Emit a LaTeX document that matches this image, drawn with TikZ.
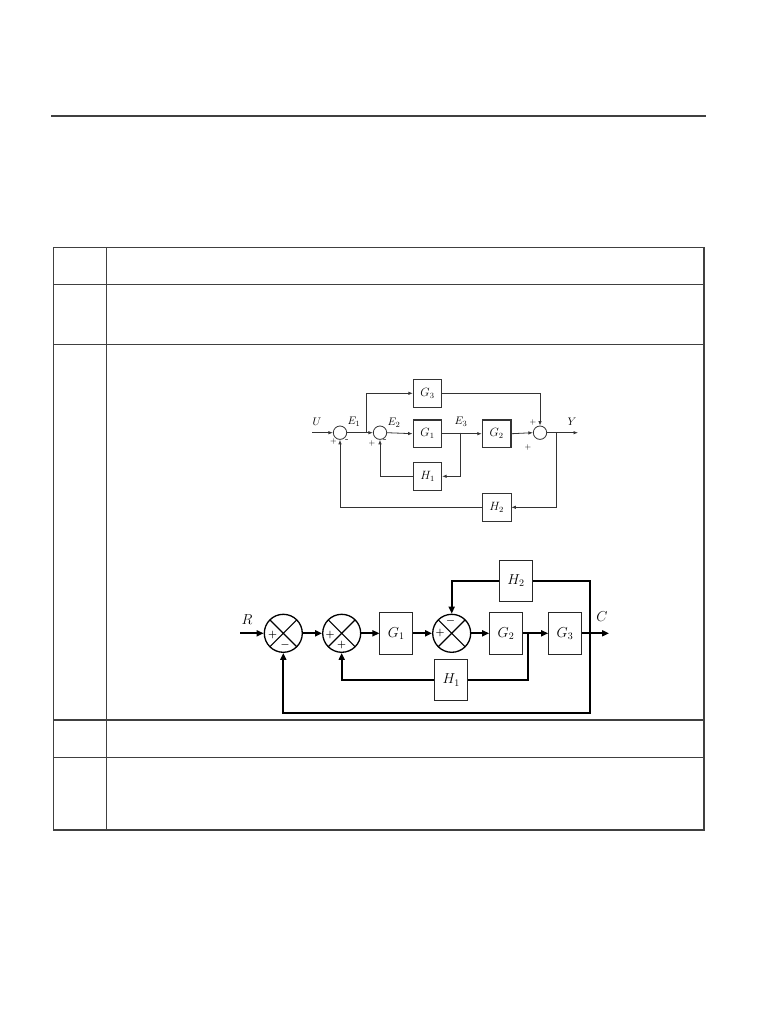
\documentclass[tikz,border=0pt]{standalone}
\usetikzlibrary{arrows.meta,calc}
\begin{document}
\begin{tikzpicture}[x=1pt,y=-1pt,
  rule/.style={draw=black!75,line width=1.2pt},
  d1line/.style={draw=black!80,line width=0.8pt},
  d1arr/.style={d1line,-{Latex[length=4.5pt,width=3.5pt]}},
  d1box/.style={draw=black!80,line width=0.8pt,minimum width=28.4,minimum height=27.3,inner sep=0pt,font=\fontsize{11.5}{13}\selectfont},
  d1sum/.style={circle,draw=black!80,line width=0.8pt,minimum size=13.4,inner sep=0pt},
  d1lab/.style={font=\fontsize{11}{12}\selectfont,inner sep=0pt},
  d2line/.style={draw=black,line width=2pt},
  d2arr/.style={d2line,-{Triangle[length=7pt,width=6pt]}},
  d2box/.style={draw=black!85,line width=0.7pt,minimum width=33,minimum height=41.3,inner sep=0pt,font=\fontsize{14}{16}\selectfont},
  d2sum/.style={circle,draw=black,line width=1.3pt,minimum size=38,inner sep=0pt,
    path picture={\draw[line width=1.2pt] (path picture bounding box.north west)--(path picture bounding box.south east)
      (path picture bounding box.north east)--(path picture bounding box.south west);}},
  d2lab/.style={font=\fontsize{14}{16}\selectfont,inner sep=0pt},
  d2sign/.style={font=\fontsize{10}{11}\selectfont\boldmath,inner sep=0pt}
]
\useasboundingbox (0,0) rectangle (768,1024);
% top rule
\draw[rule] (51,116) -- (706,116);
% table
\draw[rule] (53.3,247.7) rectangle (704,830);
\draw[rule] (106.7,247.7) -- (106.7,830);
\draw[rule] (53.3,284.3) -- (704,284.3);
\draw[rule] (53.3,344.3) -- (704,344.3);
\draw[rule] (53.3,720) -- (704,720);
\draw[rule] (53.3,757.7) -- (704,757.7);

% ---------- Diagram 1 ----------
\node[d1sum] (a1) at (340,432.7) {};
\node[d1sum] (a2) at (380,432.7) {};
\node[d1sum] (a3) at (540,432.7) {};
\node[d1box] (ag3) at (427.5,393.3) {$G_3$};
\node[d1box,line width=1.4pt] (ag1) at (427.5,433.7) {$G_1$};
\node[d1box] (ah1) at (427.5,476.3) {$H_1$};
\node[d1box,line width=1.4pt] (ag2) at (496.7,433.7) {$G_2$};
\node[d1box] (ah2) at (496.7,507.3) {$H_2$};
\coordinate (ain) at (312,432.7);
\coordinate (aout) at (578,432.7);
\coordinate (ab1) at (366.7,432.7);
\coordinate (ab3) at (460,432.7);
\coordinate (ab4) at (556.7,432.7);
\draw[d1arr] (ain) -- (a1.west);
\draw[d1arr] (a1.east) -- (a2.west);
\draw[d1arr] (ab1) |- (ag3.west);
\draw[d1arr] (ag3.east) -| (a3.north);
\draw[d1arr] (a2.east) -- (ag1.west);
\draw[d1arr] (ag1.east) -- (ag2.west);
\draw[d1arr] (ag2.east) -- (a3.west);
\draw[d1arr] (a3.east) -- (aout);
\draw[d1arr] (ab3) |- (ah1.east);
\draw[d1arr] (ah1.west) -| (a2.south);
\draw[d1arr] (ab4) |- (ah2.east);
\draw[d1arr] (ah2.west) -| (a1.south);
\node[d1lab] (lu) at (317,422) {$U$};
\node[d1lab] (le1) at (354,422) {$E_1$};
\node[d1lab] (le2) at (394,423) {$E_2$};
\node[d1lab] (le3) at (461,422) {$E_3$};
\node[d1lab] (ly) at (572,422) {$Y$};
\node[d1lab,font=\fontsize{8}{9}\selectfont] (sa1p) at (333.5,441.5) {$+$};
\node[d1lab] (sa1m) at (347,441) {-};
\node[d1lab,font=\fontsize{8}{9}\selectfont] (sa2p) at (372,443) {$+$};
\node[d1lab] (sa2m) at (385,441) {-};
\node[d1lab,font=\fontsize{8}{9}\selectfont] (sa3p) at (533,422.5) {$+$};
\node[d1lab,font=\fontsize{8}{9}\selectfont] (sa3q) at (528,447) {$+$};

% ---------- Diagram 2 ----------
\node[d2sum] (b1) at (283.3,633.3) {};
\node[d2sum] (b2) at (341.7,633.3) {};
\node[d2sum] (b3) at (451.7,633.3) {};
\node[d2box] (bg1) at (396.3,633.3) {$G_1$};
\node[d2box] (bg2) at (506,633.3) {$G_2$};
\node[d2box] (bg3) at (565,633.3) {$G_3$};
\node[d2box] (bh2) at (516,580.5) {$H_2$};
\node[d2box] (bh1) at (451.2,680) {$H_1$};
\coordinate (bin) at (240,633.3);
\coordinate (bout) at (609,633.3);
\coordinate (bbg) at (528.3,633.3);
\coordinate (bbc) at (590,633.3);
\coordinate (bbot) at (590,712.7);
\draw[d2arr] (bin) -- (b1.west);
\draw[d2arr] (b1.east) -- (b2.west);
\draw[d2arr] (b2.east) -- (bg1.west);
\draw[d2arr] (bg1.east) -- (b3.west);
\draw[d2arr] (b3.east) -- (bg2.west);
\draw[d2arr] (bg2.east) -- (bg3.west);
\draw[d2arr] (bg3.east) -- (bout);
\draw[d2line] (bbc) |- (bh2.east);
\draw[d2arr] (bh2.west) -| (b3.north);
\draw[d2line] (bbg) |- (bh1.east);
\draw[d2arr] (bh1.west) -| (b2.south);
\draw[d2arr] (bbc) -- (bbot) -| (b1.south);
\node[d2lab] (lr) at (247,620) {$R$};
\node[d2lab] (lc) at (602,617) {$C$};
\node[d2sign] (sb1p) at (272.7,635) {$+$};
\node[d2sign] (sb1m) at (285,645) {$-$};
\node[d2sign] (sb2p) at (330,635) {$+$};
\node[d2sign] (sb2q) at (341.7,645) {$+$};
\node[d2sign] (sb3m) at (450.5,621) {$-$};
\node[d2sign] (sb3p) at (440,633.3) {$+$};
\end{tikzpicture}
\end{document}
